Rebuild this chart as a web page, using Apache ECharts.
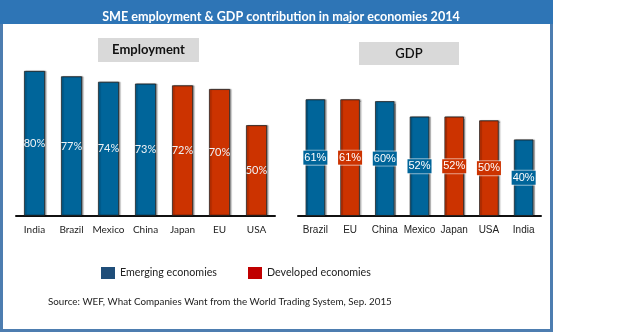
<!DOCTYPE html>
<html>
<head>
<meta charset="utf-8">
<style>
  html, body { margin: 0; padding: 0; background: #ffffff; }
  #chart { width: 640px; height: 332px; }
</style>
<script src="https://cdn.jsdelivr.net/npm/echarts@6/dist/echarts.min.js"></script>
</head>
<body>
<div id="chart"></div>
<script>
// SME share of employment, by economy
const empCategories = ['India', 'Brazil', 'Mexico', 'China', 'Japan', 'EU', 'USA'];
const empValues = [80, 77, 74, 73, 72, 70, 50];
const empGroups = ['E', 'E', 'E', 'E', 'D', 'D', 'D'];

// SME share of GDP, by economy
const gdpCategories = ['Brazil', 'EU', 'China', 'Mexico', 'Japan', 'USA', 'India'];
const gdpValues = [61, 61, 60, 52, 52, 50, 40];
const gdpGroups = ['E', 'D', 'E', 'E', 'D', 'D', 'E'];

const titleText = 'SME employment & GDP contribution in major economies 2014';
const groupNames = { E: 'Emerging economies', D: 'Developed economies' };
const sourceText = 'Source: WEF, What Companies Want from the World Trading System, Sep. 2015';

const barColors = { E: '#00659A', D: '#CC3300' };
const legendColors = { E: '#1F4E79', D: '#C00000' };
const calibriLike = 'Lato, "Open Sans", sans-serif';
const arialLike = '"Liberation Sans", Arial, sans-serif';

// keep only the values of one group; the rest become gaps
function pick(values, groups, g) {
  return values.map((v, i) => (groups[i] === g ? v : '-'));
}

const barStyle = (g) => ({
  color: barColors[g],
  borderColor: '#222222',
  borderWidth: 0.8,
  shadowColor: 'rgba(0,0,0,0.35)',
  shadowOffsetX: 1.5,
  shadowOffsetY: 0,
  shadowBlur: 1
});

function empSeries(g) {
  return {
    type: 'bar',
    name: groupNames[g],
    xAxisIndex: 0, yAxisIndex: 0,
    data: pick(empValues, empGroups, g),
    barWidth: 21,
    barGap: '-100%',
    itemStyle: barStyle(g),
    label: {
      show: true,
      position: 'inside',
      formatter: '{c}%',
      color: '#eef2f5',
      fontFamily: calibriLike,
      fontSize: 11
    },
    silent: true,
    animation: false
  };
}

function gdpSeries(g) {
  return {
    type: 'bar',
    name: groupNames[g],
    xAxisIndex: 1, yAxisIndex: 1,
    data: pick(gdpValues, gdpGroups, g),
    barWidth: 19.5,
    barGap: '-100%',
    itemStyle: barStyle(g),
    label: {
      show: true,
      position: 'inside',
      formatter: '{c}%',
      color: '#ffffff',
      fontFamily: arialLike,
      fontSize: 11,
      backgroundColor: barColors[g],
      borderColor: 'rgba(255,255,255,0.55)',
      borderWidth: 1,
      padding: [2, 1, 1, 1]
    },
    silent: true,
    animation: false
  };
}

const catAxis = (cats, grid, family) => ({
  type: 'category',
  gridIndex: grid,
  data: cats,
  axisLine: { lineStyle: { color: '#111111', width: 2 } },
  axisTick: { show: false },
  axisLabel: { interval: 0, color: '#222222', fontSize: 10, fontFamily: family, margin: 9 }
});

const valAxis = (grid) => ({
  type: 'value',
  gridIndex: grid,
  min: 0,
  max: 100,
  show: false,
  splitLine: { show: false }
});

const legendItem = (g, left) => ({
  left: left,
  top: 262,
  itemWidth: 14,
  itemHeight: 12,
  itemGap: 0,
  icon: 'rect',
  selectedMode: false,
  textStyle: { fontFamily: calibriLike, fontSize: 10.7, color: '#222222' },
  data: [{ name: groupNames[g], itemStyle: { color: legendColors[g], borderWidth: 0, shadowBlur: 0, shadowOffsetX: 0 } }]
});

const chart = echarts.init(document.getElementById('chart'), null, { renderer: 'canvas' });

chart.setOption({
  backgroundColor: '#ffffff',
  animation: false,
  title: {
    text: titleText,
    left: 276,
    textAlign: 'center',
    top: 5,
    textStyle: { color: '#ffffff', fontFamily: calibriLike, fontWeight: 'bold', fontSize: 12.6 }
  },
  legend: [legendItem('E', 96), legendItem('D', 243)],
  grid: [
    { left: 16, width: 259, top: 34.7, height: 181 },
    { left: 298, width: 243, top: 24.7, height: 191.3 }
  ],
  xAxis: [catAxis(empCategories, 0, calibriLike), catAxis(gdpCategories, 1, arialLike)],
  yAxis: [valAxis(0), valAxis(1)],
  series: [empSeries('E'), empSeries('D'), gdpSeries('E'), gdpSeries('D')],
  graphic: [
    {
      type: 'rect', z: -10, silent: true,
      shape: { x: 1.5, y: 1.5, width: 550, height: 329 },
      style: { fill: '#ffffff', stroke: '#4D7DB0', lineWidth: 3 }
    },
    {
      type: 'rect', z: -5, silent: true,
      shape: { x: 0, y: 0, width: 553, height: 24 },
      style: { fill: '#2E75B6' }
    },
    {
      type: 'group', silent: true,
      children: [
        { type: 'rect', shape: { x: 98, y: 38, width: 101, height: 24 }, style: { fill: '#D9D9D9' } },
        {
          type: 'text', x: 148.5, y: 50,
          style: { text: 'Employment', fill: '#111111', font: 'bold 13px ' + calibriLike, align: 'center', verticalAlign: 'middle' }
        },
        { type: 'rect', shape: { x: 359, y: 42, width: 100, height: 23 }, style: { fill: '#D9D9D9' } },
        {
          type: 'text', x: 409, y: 53.5,
          style: { text: 'GDP', fill: '#111111', font: '600 13px ' + calibriLike, align: 'center', verticalAlign: 'middle' }
        },
        {
          type: 'text', x: 48, y: 302,
          style: { text: sourceText, fill: '#222222', font: '9.8px ' + calibriLike, verticalAlign: 'middle' }
        }
      ]
    }
  ]
});
</script>
</body>
</html>
